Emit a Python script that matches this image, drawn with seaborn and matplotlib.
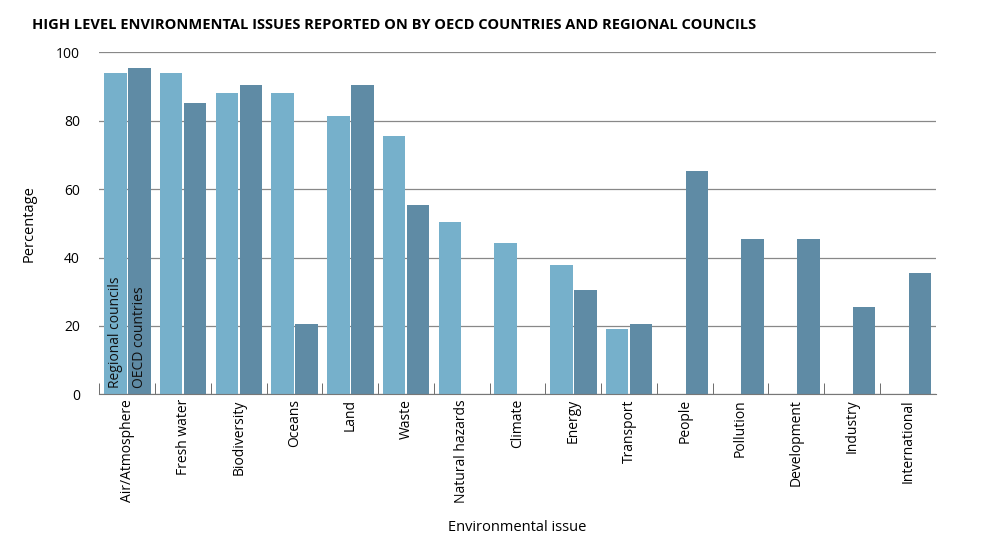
import numpy as np
import pandas as pd
import matplotlib
matplotlib.use("Agg")
import matplotlib.pyplot as plt
import seaborn as sns

issues = ["Air/Atmosphere", "Fresh water", "Biodiversity", "Oceans", "Land", "Waste",
          "Natural hazards", "Climate", "Energy", "Transport", "People", "Pollution",
          "Development", "Industry", "International"]
regional = [94, 94, 88, 88, 81.5, 75.5, 50.5, 44.3, 37.8, 19, 0, 0, 0, 0, 0]
oecd = [95.5, 85.3, 90.3, 20.5, 90.3, 55.4, 0, 0, 30.5, 20.5, 65.3, 45.4, 45.4, 25.5, 35.5]
series = ["Regional councils", "OECD countries"]
colors = ["#76b0cb", "#5f8ba5"]

df = pd.DataFrame({"issue": issues * 2,
                   "series": [series[0]] * len(issues) + [series[1]] * len(issues),
                   "value": regional + oecd})

plt.rcParams["font.family"] = "Open Sans"
fig = plt.figure(figsize=(10.05, 5.5), dpi=100)
ax = fig.add_axes([0.099, 0.283, 0.832, 0.622])
sns.barplot(data=df, x="issue", y="value", hue="series", palette=colors,
            width=0.86, gap=0.06, saturation=1, legend=False, ax=ax)

ax.set_ylim(0, 100)
ax.set_xlim(-0.5, len(issues) - 0.5)
ax.set_yticks(range(0, 101, 20))
ax.yaxis.grid(True, color="#888888", lw=0.9)
ax.set_axisbelow(True)
for s in ["left", "right", "top"]:
    ax.spines[s].set_visible(False)
ax.spines["bottom"].set_color("#777777")
ax.tick_params(axis="y", length=0, labelsize=10, pad=14)
ax.tick_params(axis="x", length=0, labelsize=10, rotation=90)
ax.set_xticks(np.arange(len(issues)) - 0.5, minor=True)
ax.tick_params(axis="x", which="minor", direction="in", length=8, color="#555555")
ax.set_xlabel("Environmental issue", fontsize=10.5, labelpad=12)
ax.set_ylabel("Percentage", fontsize=10.5, labelpad=14)

# in-bar legend text
ax.text(-0.21, 2, series[0], rotation=90, ha="center", va="bottom", fontsize=10, color="#111111")
ax.text(0.21, 2, series[1], rotation=90, ha="center", va="bottom", fontsize=10, color="#111111")

fig.text(0.032, 0.955, "HIGH LEVEL ENVIRONMENTAL ISSUES REPORTED ON BY OECD COUNTRIES AND REGIONAL COUNCILS",
         fontsize=10.5, fontweight="bold", ha="left", va="center")
fig.savefig("out.png", dpi=100, facecolor="white")
